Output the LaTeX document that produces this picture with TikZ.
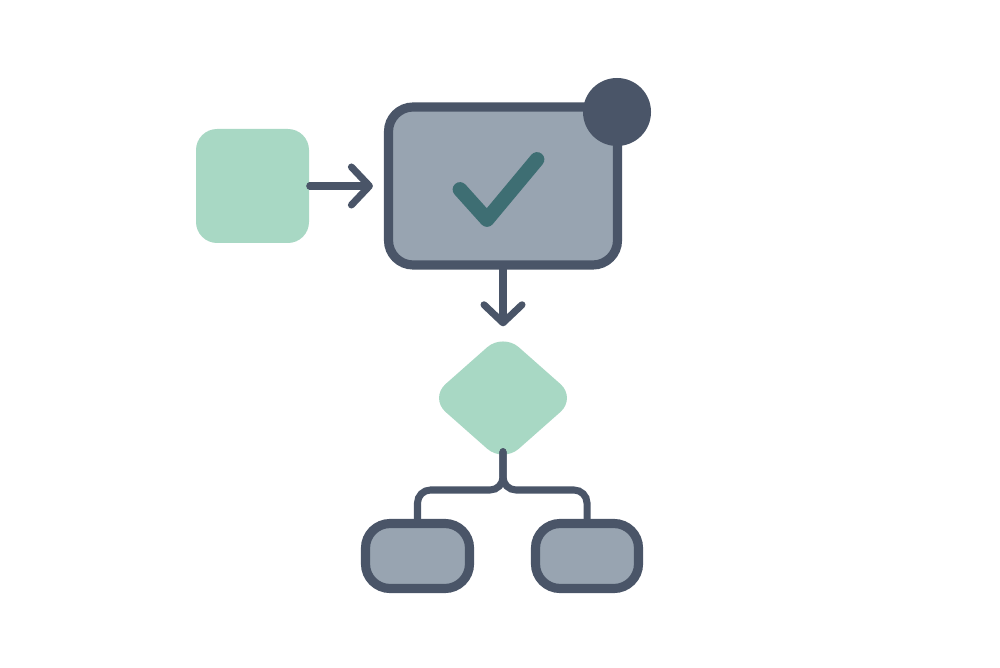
\documentclass[tikz,border=0pt]{standalone}
\usepackage{tikz}
\usepackage{xcolor}
\usetikzlibrary{shapes.geometric, arrows.meta, positioning, calc}
\definecolor{mintgreen}{RGB}{168, 216, 196}
\definecolor{slategray}{RGB}{152, 164, 177}
\definecolor{darkslate}{RGB}{74, 85, 104}
\definecolor{tealcheck}{RGB}{62, 110, 115}

\begin{document}
\begin{tikzpicture}[
    greenbox/.style={fill=mintgreen, rounded corners=6pt, inner sep=0},
    graybox/.style={draw=darkslate, line width=2.6pt, fill=slategray, rounded corners=7pt, inner sep=0},
    link/.style={darkslate, line width=2pt, line cap=round},
    arr/.style={link, -{Straight Barb[length=0.18cm, width=0.38cm, round]}}
]
    \fill[white] (0,0) rectangle (10,6.67);
    \useasboundingbox (0,0) rectangle (10,6.67);
    % nodes
    \node[graybox, minimum width=2.29cm, minimum height=1.58cm] (check) at (5.03,4.81) {};
    \node[greenbox, minimum width=1.13cm, minimum height=1.14cm] (src) at (2.525,4.81) {};
    \node[circle, fill=darkslate, minimum size=0.68cm, inner sep=0] (badge) at (6.17,5.55) {};
    \node[diamond, fill=mintgreen, rounded corners=6pt, minimum width=1.47cm, minimum height=1.3cm, inner sep=0] (dec) at (5.03,2.69) {};
    \node[graybox, minimum width=1.04cm, minimum height=0.65cm] (leftbox) at (4.175,1.11) {};
    \node[graybox, minimum width=1.03cm, minimum height=0.65cm] (rightbox) at (5.87,1.11) {};
    \coordinate (fork) at (5.03,1.77);
    % check mark
    \draw[tealcheck, line width=4.2pt, line cap=round, line join=round]
        ($(check)+(-0.43,-0.035)$) -- ($(check)+(-0.16,-0.335)$) -- ($(check)+(0.34,0.265)$);
    % connectors
    \draw[arr, shorten >=0.11cm] (src.east) -- (check.west);
    \draw[arr, shorten >=0.06cm] (check.south) -- (dec.north);
    \draw[link, rounded corners=0.13cm, shorten <=-0.12cm] (dec.south) |- (leftbox.north |- fork) -- (leftbox.north);
    \draw[link, rounded corners=0.13cm, shorten <=-0.12cm] (dec.south) |- (rightbox.north |- fork) -- (rightbox.north);
\end{tikzpicture}
\end{document}
